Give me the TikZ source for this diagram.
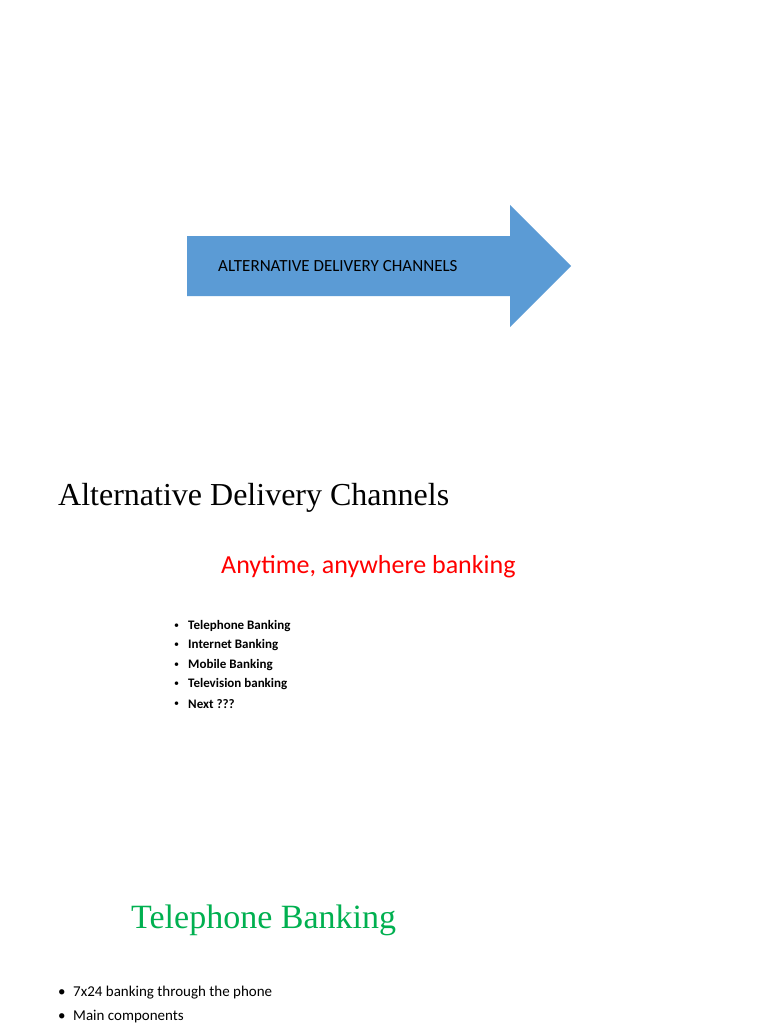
\documentclass[tikz,border=0pt]{standalone}
\usepackage{fontspec}
\setmainfont{Carlito}
\newfontfamily\timesf{Liberation Serif}
\definecolor{arrowblue}{HTML}{5B9BD5}
\definecolor{tgreen}{HTML}{00B050}
\tikzset{
  lbl/.style={inner sep=0pt, anchor=west},
  bul/.style={lbl, font=\fontsize{13}{15}\selectfont\bfseries},
  bul2/.style={lbl, font=\fontsize{15}{18}\selectfont},
}
\begin{document}
\begin{tikzpicture}[x=1pt,y=-1pt]
\useasboundingbox (0,0) rectangle (768,1024);
\fill[white] (0,0) rectangle (768,1024);
\fill[arrowblue] (187,236) -- (510,236) -- (510,205) -- (571,266) -- (510,327) -- (510,296) -- (187,296) -- cycle;
\node[lbl, font=\fontsize{17}{20}\selectfont] (adc) at (218,266) {ALTERNATIVE DELIVERY CHANNELS};
\node[lbl, font=\timesf\fontsize{32}{38}\selectfont] (title) at (58,498) {Alternative Delivery Channels};
\node[lbl, text=red, font=\fontsize{26}{30}\selectfont] (any) at (221,567) {Anytime, anywhere banking};
\foreach \t/\y [count=\i] in {Telephone Banking/626, Internet Banking/645, Mobile Banking/665, Television banking/684, Next ???/704}{
  \node[bul] (b\i) at (188,\y) {\t};
  \node[lbl, font=\fontsize{10}{12}\selectfont] (d\i) at (174,\y) {•};
}
\node[lbl, text=tgreen, font=\timesf\fontsize{34}{40}\selectfont] (tb) at (131,920) {Telephone Banking};
\node[bul2] (c1) at (73,993) {7x24 banking through the phone};
\node[lbl, font=\fontsize{15}{18}\selectfont] (e1) at (58,993) {•};
\node[bul2] (c2) at (73,1017) {Main components};
\node[lbl, font=\fontsize{15}{18}\selectfont] (e2) at (58,1017) {•};
\end{tikzpicture}
\end{document}
